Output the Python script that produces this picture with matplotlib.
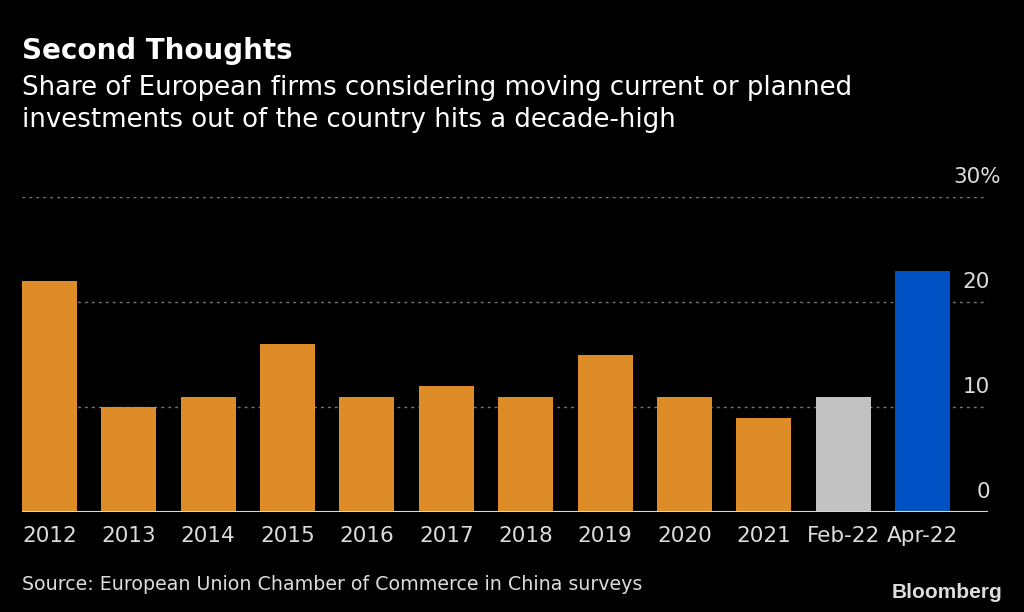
import matplotlib as mpl
mpl.use('Agg')
import matplotlib.pyplot as plt

# data
labels = ['2012', '2013', '2014', '2015', '2016', '2017', '2018', '2019',
          '2020', '2021', 'Feb-22', 'Apr-22']
values = [22, 10, 11, 16, 11, 12, 11, 15, 11, 9, 11, 23]
colors = ['#DE8C27'] * 10 + ['#C2C2C2', '#0051C4']
yticks = [0, 10, 20, 30]
ytick_labels = ['0', '10', '20', '30%']

W, H = 1024, 612
fig = plt.figure(figsize=(W / 100, H / 100), dpi=100, facecolor='black')

# axes placed in pixel terms
left, right, top, bottom = 22, 988, 197, 512
ax = fig.add_axes([left / W, 1 - bottom / H, (right - left) / W, (bottom - top) / H])
ax.set_facecolor('black')

bar_w = 0.693
x = range(len(labels))
ax.bar(x, values, width=bar_w, color=colors, zorder=3)

ax.set_xlim(-bar_w / 2, 11.826)
ax.set_ylim(0, 30)

for y in yticks[1:]:
    ax.axhline(y, color='#7a7a7a', lw=1, ls=(0, (2, 3)), zorder=1)
ax.axhline(0, color='#d9d9d9', lw=1.5, zorder=4)

for s in ax.spines.values():
    s.set_visible(False)
ax.set_yticks([])
ax.set_xticks(list(x))
ax.set_xticklabels(labels, color='#dcdcdc', fontsize=15.5)
ax.tick_params(axis='x', length=0, pad=10)

# y labels sit just above their gridline at the right edge
for y, t in zip(yticks, ytick_labels):
    xr = 1001 if t.endswith('%') else 990
    fig.text(xr / W, 1 - (bottom - y * (bottom - top) / 30 - 14) / H, t,
             ha='right', va='baseline', color='#dcdcdc', fontsize=15.5)

fig.text(22 / W, 1 - 59 / H, 'Second Thoughts', color='white',
         fontsize=20, fontweight='bold', va='baseline')
fig.text(22 / W, 1 - 95 / H,
         'Share of European firms considering moving current or planned',
         color='white', fontsize=18.7, va='baseline')
fig.text(22 / W, 1 - 127 / H,
         'investments out of the country hits a decade-high',
         color='white', fontsize=18.7, va='baseline')
fig.text(22 / W, 1 - 590 / H,
         'Source: European Union Chamber of Commerce in China surveys',
         color='#dcdcdc', fontsize=13.7, va='baseline')
fig.text(1002 / W, 1 - 598 / H, 'Bloomberg', color='#dddddd',
         fontsize=15, fontweight='bold', family='Liberation Sans',
         ha='right', va='baseline')

fig.savefig('out.png', dpi=100, facecolor='black')
